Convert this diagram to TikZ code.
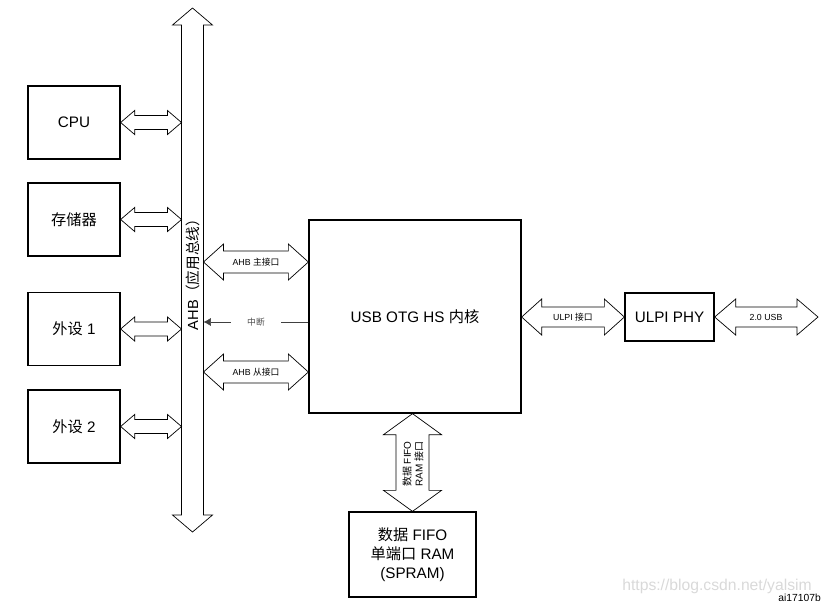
\documentclass[tikz,border=0pt]{standalone}
\usepackage{fontspec}
\setmainfont{Liberation Sans}
\newfontfamily\cjk{Noto Sans CJK SC}
\usetikzlibrary{calc,arrows.meta}
\begin{document}
\begin{tikzpicture}[x=0.03cm,y=-0.03cm,
    blk/.style={draw,line width=1.1pt,align=center,inner sep=0pt,font=\fontsize{13}{16}\selectfont},
    lbox/.style={blk,minimum width=27.6mm,minimum height=21.9mm},
    lbl/.style={inner sep=1pt,align=center,font=\fontsize{7.5}{9}\selectfont},
    harr/.style n args={3}{line width=0.6pt,to path={let \p1=(\tikztostart),\p2=(\tikztotarget) in
      (\p1) -- ($(\p1)+(#1,#2)$) -- ($(\p1)+(#1,#3)$) -- ($(\p2)+(-#1,#3)$) -- ($(\p2)+(-#1,#2)$) -- (\p2)
      -- ($(\p2)+(-#1,-#2)$) -- ($(\p2)+(-#1,-#3)$) -- ($(\p1)+(#1,-#3)$) -- ($(\p1)+(#1,-#2)$) -- cycle}},
    varr/.style n args={3}{line width=0.6pt,to path={let \p1=(\tikztostart),\p2=(\tikztotarget) in
      (\p1) -- ($(\p1)+(#2,#1)$) -- ($(\p1)+(#3,#1)$) -- ($(\p2)+(#3,-#1)$) -- ($(\p2)+(#2,-#1)$) -- (\p2)
      -- ($(\p2)+(-#2,-#1)$) -- ($(\p2)+(-#3,-#1)$) -- ($(\p1)+(-#3,#1)$) -- ($(\p1)+(-#2,#1)$) -- cycle}}]
  \useasboundingbox (0,0) rectangle (821,603);
  \node[lbox] (cpu) at (74,122.5) {CPU};
  \node[lbox] (mem) at (74,219.5) {\cjk 存储器};
  \node[lbox] (per1) at (74,329) {{\cjk 外设} 1};
  \node[lbox] (per2) at (74,426.5) {{\cjk 外设} 2};
  \node[blk,minimum width=63.6mm,minimum height=57.9mm] (core) at (415,316.5) {USB OTG HS {\cjk 内核}};
  \node[blk,minimum width=26.7mm,minimum height=14.4mm] (phy) at (669.5,317) {ULPI PHY};
  \node[blk,minimum width=38.1mm,minimum height=25.5mm] (ram) at (412.5,554.5) {{\cjk 数据} FIFO\\{\cjk 单端口} RAM\\(SPRAM)};
  \coordinate (bustop) at (192.5,8);
  \coordinate (busbot) at (192.5,532);
  \coordinate (busw) at (181.5,270);
  \coordinate (buse) at (203.5,270);
  \node[rotate=90,inner sep=0pt,font=\fontsize{12.5}{14}\selectfont] (ahb) at (192.5,271) {AHB{\cjk （应用总线）}};
  \node[lbl] (ahbm) at (256,262) {AHB {\cjk 主接口}};
  \node[lbl] (ahbs) at (256,372) {AHB {\cjk 从接口}};
  \node[lbl,inner xsep=4.8mm,text=black!70] (irq) at (256,322) {\cjk 中断};
  \node[lbl] (ulpi) at (573,317) {ULPI {\cjk 接口}};
  \node[lbl] (usblbl) at (766,317) {2.0 USB};
  \coordinate (usb) at (818,317);
  \node[lbl,rotate=90,font=\fontsize{8.5}{10}\selectfont] (fifo) at (413,464) {{\cjk 数据} FIFO\\RAM {\cjk 接口}};
  \draw[varr={17}{20}{11}] (bustop) to (busbot);
  \draw[harr={14}{12}{7}] (cpu.east) to (cpu.east -| busw);
  \draw[harr={14}{12}{7}] (mem.east) to (mem.east -| busw);
  \draw[harr={14}{12}{7}] (per1.east) to (per1.east -| busw);
  \draw[harr={14}{12}{7}] (per2.east) to (per2.east -| busw);
  \draw[harr={20}{18}{11}] (ahbm -| buse) to (ahbm -| core.west);
  \draw[harr={20}{18}{11}] (ahbs -| buse) to (ahbs -| core.west);
  \draw[black!75,line width=0.5pt] (irq -| core.west) -- (irq.east);
  \draw[black!75,line width=0.5pt,-{Latex[length=2.2mm,width=2.4mm]}] (irq.west) -- (irq -| buse);
  \draw[harr={20}{18}{10}] (phy.west -| core.east) to (phy.west);
  \draw[harr={21}{18}{10}] (phy.east) to (usb);
  \draw[varr={21}{29}{16.5}] (ram.north |- core.south) to (ram.north);
  \node[text=black!15,font=\fontsize{13.4}{15}\selectfont] (wm) at (717,586) {https://blog.csdn.net/yalsim};
  \node[anchor=base east,inner sep=0pt,font=\fontsize{8.8}{10}\selectfont] (ref) at (821,601) {ai17107b};
\end{tikzpicture}
\end{document}
